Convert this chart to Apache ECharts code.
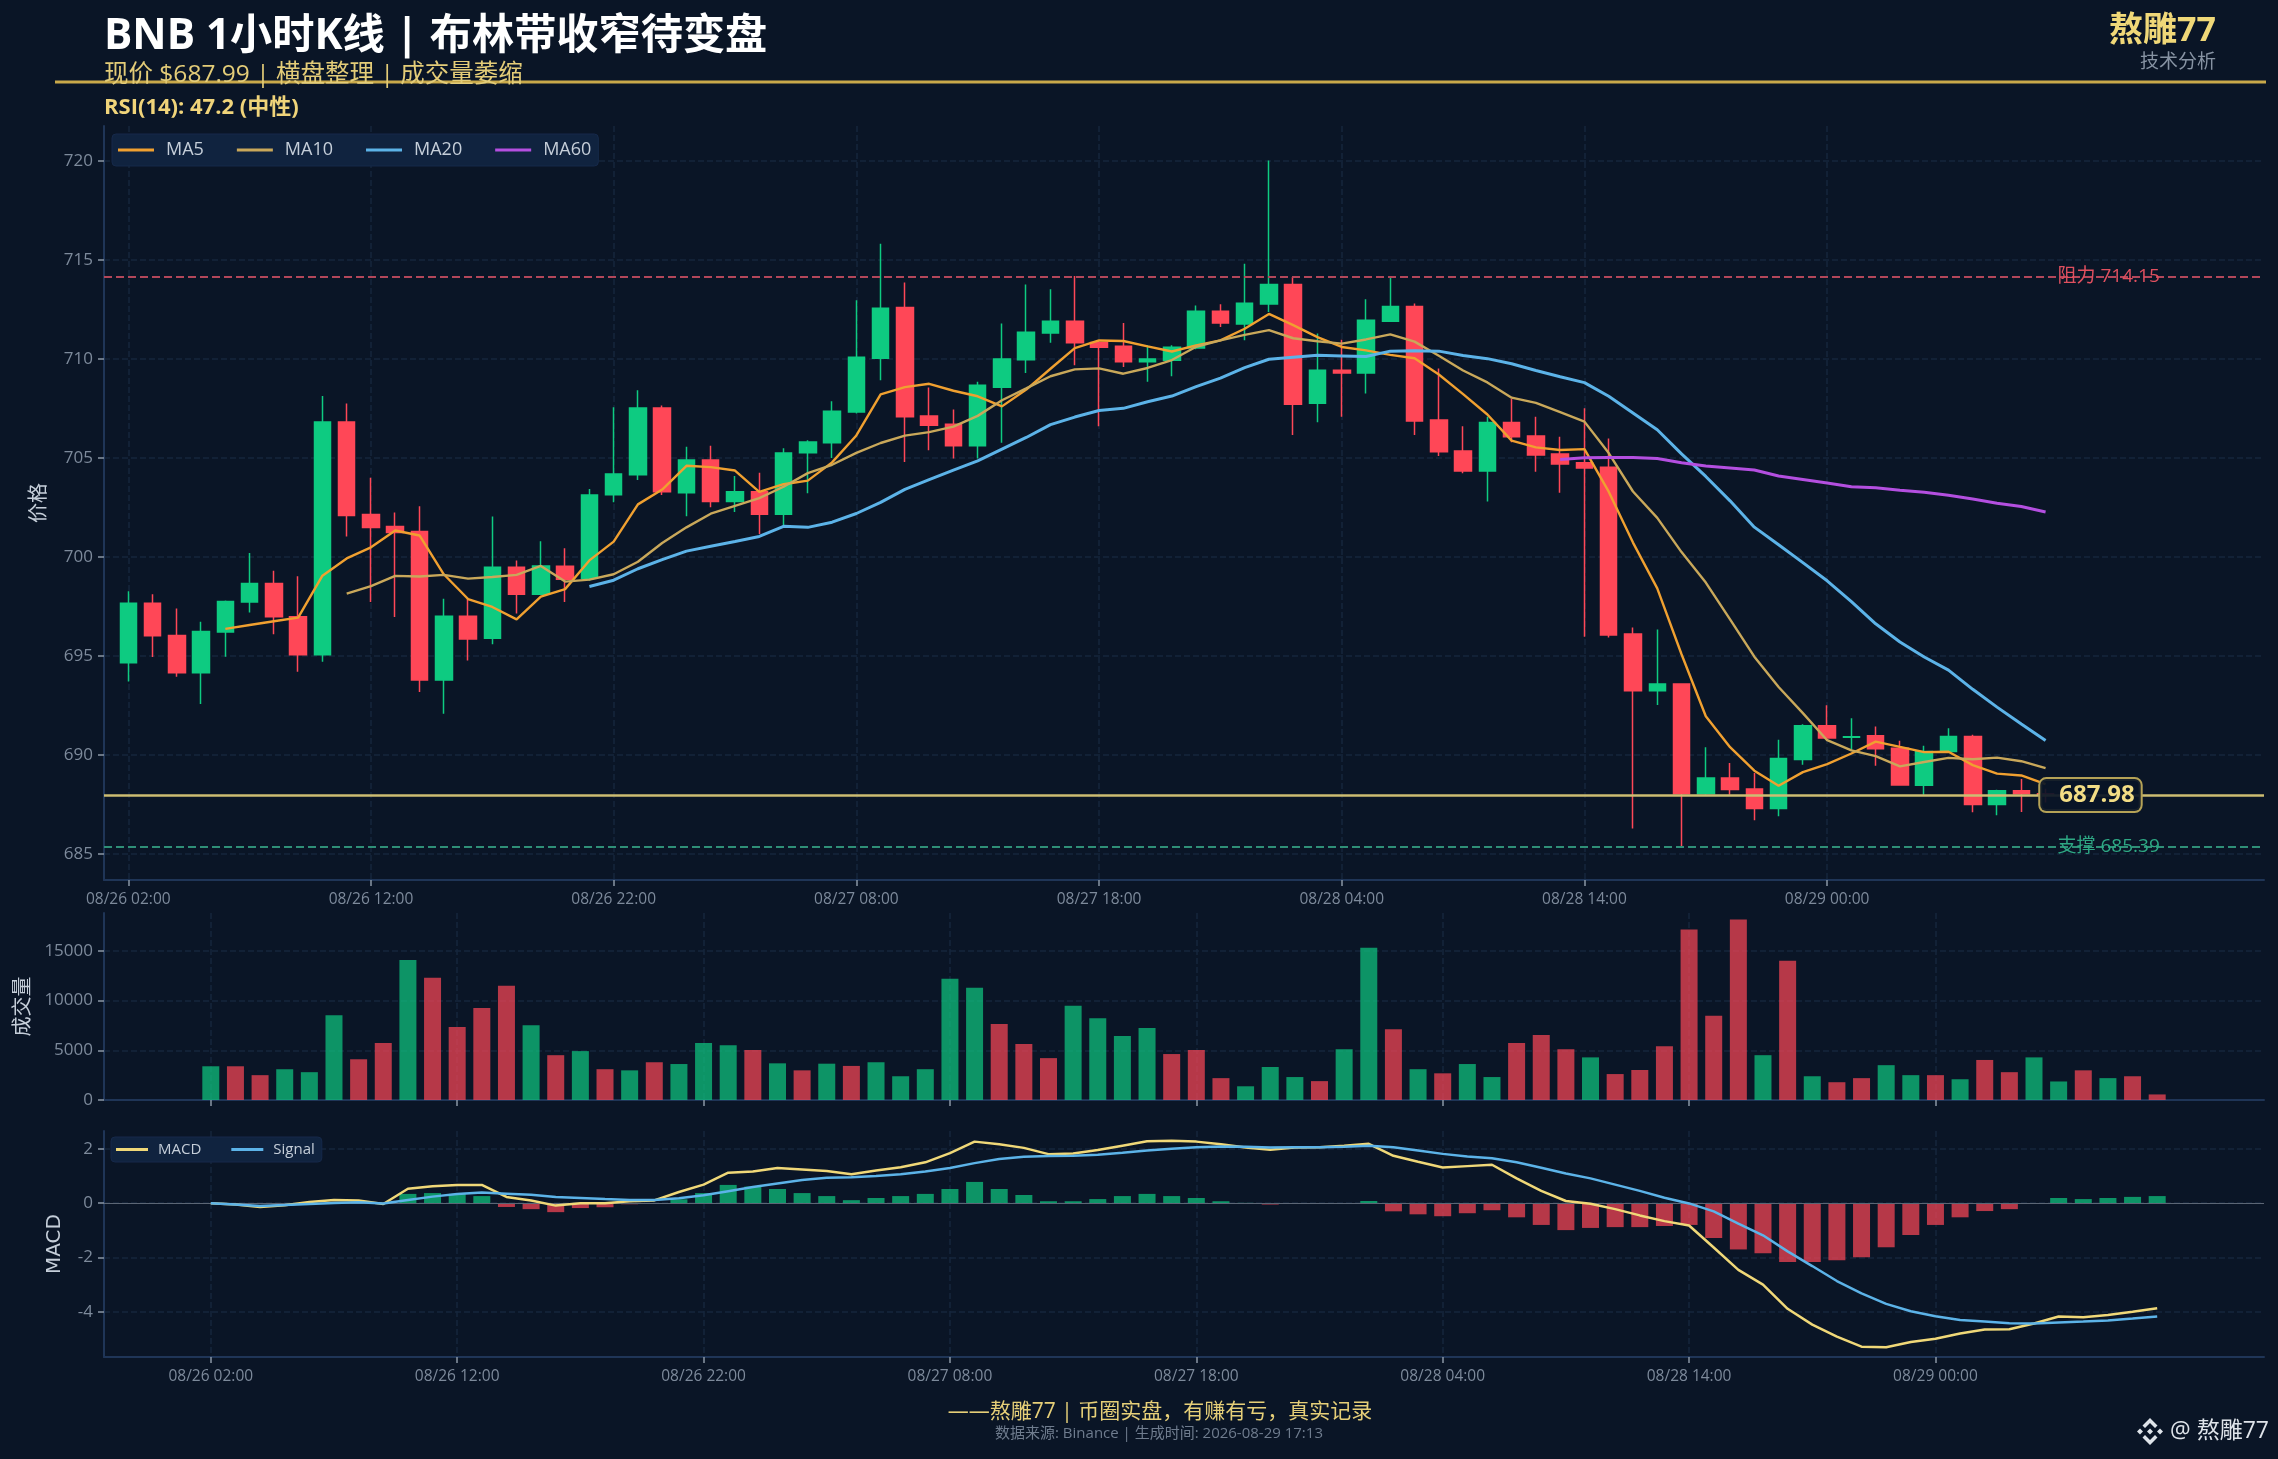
<!DOCTYPE html>
<html><head><meta charset="utf-8">
<style>html,body{margin:0;padding:0;background:#0a1526}#c{width:2278px;height:1459px}</style>
<script src="https://cdn.jsdelivr.net/npm/echarts@6/dist/echarts.min.js"></script>
</head><body><div id="c"></div>
<script>
const tickLabels=["08/26 02:00","08/26 12:00","08/26 22:00","08/27 08:00","08/27 18:00","08/28 04:00","08/28 14:00","08/29 00:00"];
const tickPositions=[0,10,20,30,40,50,60,70];
const priceTicks=[685,690,695,700,705,710,715,720];
const volumeTicks=[0,5000,10000,15000];
const macdTicks=[-4,-2,0,2];
const opens=[694.66,697.67,696.04,694.16,696.22,697.73,698.66,696.98,695.07,706.82,702.15,701.54,701.29,693.79,697.01,695.9,699.48,698.12,699.53,698.93,703.15,704.16,707.53,703.25,704.9,702.8,703.3,702.16,705.27,705.77,707.32,710.04,712.6,707.12,706.71,705.62,708.58,709.96,711.32,711.91,710.83,710.65,709.86,709.94,710.56,712.41,711.77,712.78,713.77,707.77,709.44,709.29,711.91,712.66,706.92,705.35,704.34,706.8,706.11,705.2,704.76,704.53,696.11,693.25,693.59,688.04,688.84,688.29,687.3,689.77,691.48,690.9,690.97,690.35,688.47,690.18,690.94,687.5,688.2,688.04];
const closes=[697.67,696.02,694.16,696.24,697.75,698.66,696.98,695.07,706.82,702.1,701.49,701.24,693.79,697.01,695.86,699.48,698.12,699.55,698.88,703.14,704.19,707.53,703.3,704.9,702.8,703.3,702.16,705.25,705.81,707.37,710.09,712.56,707.08,706.66,705.62,708.68,710,711.35,711.91,710.82,710.6,709.86,710,710.6,712.41,711.82,712.82,713.77,707.72,709.44,709.29,711.96,712.66,706.87,705.32,704.34,706.8,706.08,705.15,704.7,704.5,696.06,693.25,693.59,688.04,688.84,688.26,687.3,689.82,691.48,690.86,690.92,690.32,688.49,690.18,690.94,687.5,688.2,688.04,687.98];
const lows=[693.71,694.95,693.96,692.58,694.97,697.2,696.1,694.21,694.71,701.04,697.73,696.97,693.19,692.08,694.77,695.6,697.15,698.1,697.73,698.8,702.77,703.89,703.13,702.06,702.52,702.27,701.17,701.54,703.22,705,707.25,708.93,704.8,705.4,704.98,704.98,705.77,709.3,710.82,709.69,706.61,709.6,708.85,709.13,710.5,711.62,710.95,712.38,706.16,706.81,707.08,708.26,711.9,706.16,705.1,704.23,702.8,705.8,704.31,703.25,695.97,695.94,686.29,692.53,685.4,688,688,686.71,686.91,689.51,690.85,690.27,689.46,688.46,688,690.18,687.11,686.96,687.13,687.6];
const highs=[698.27,698.12,697.4,696.73,697.8,700.2,699.31,699.03,708.13,707.76,704,702.25,702.57,697.9,697.9,702.05,699.83,700.8,700.44,703.44,707.56,708.43,707.66,705.57,705.62,704.09,704.26,705.49,705.9,707.87,712.97,715.82,713.86,708.56,707.45,708.85,711.79,713.77,713.52,714.2,710.95,711.82,710.7,710.7,712.71,712.77,714.81,720.03,714.14,711.29,710.98,713.02,714.19,712.8,709.52,706.61,707.08,708,707.08,706.08,707.52,705.99,696.44,696.34,693.6,690.4,689.6,689.09,690.77,691.56,692.52,691.86,691.44,690.72,690.47,691.36,691.02,688.25,688.79,688.3];
const ma5=[null,null,null,null,696.37,696.57,696.76,696.94,699.06,699.93,700.49,701.34,701.09,699.13,697.88,697.48,696.85,698,698.38,699.83,700.78,702.66,703.41,704.61,704.54,704.37,703.29,703.68,703.86,704.78,706.14,708.22,708.58,708.75,708.4,708.12,707.61,708.46,709.51,710.55,710.94,710.91,710.64,710.38,710.69,710.94,711.53,712.28,711.71,711.11,710.61,710.44,710.21,710.04,709.22,708.23,707.2,705.88,705.54,705.41,705.45,703.3,700.73,698.42,695.09,691.96,690.4,689.21,688.45,689.14,689.54,690.08,690.68,690.41,690.15,690.17,689.49,689.06,688.97,688.53];
const ma10=[null,null,null,null,null,null,null,null,null,698.15,698.53,699.05,699.02,699.1,698.91,698.99,699.1,699.55,698.76,698.86,699.13,699.76,700.71,701.5,702.19,702.58,702.98,703.55,704.24,704.66,705.26,705.76,706.13,706.31,706.59,707.13,707.92,708.52,709.13,709.48,709.53,709.26,709.55,709.95,710.62,710.94,711.22,711.46,711.05,710.9,710.78,710.99,711.25,710.88,710.17,709.42,708.82,708.05,707.79,707.32,706.84,705.25,703.31,701.98,700.25,698.71,696.85,694.97,693.44,692.12,690.75,690.24,689.95,689.43,689.65,689.86,689.79,689.87,689.69,689.34];
const ma20=[null,null,null,null,null,null,null,null,null,null,null,null,null,null,null,null,null,null,null,698.51,698.83,699.41,699.87,700.3,700.55,700.79,701.04,701.55,701.5,701.76,702.2,702.76,703.42,703.91,704.39,704.86,705.45,706.04,706.69,707.07,707.4,707.51,707.84,708.13,708.61,709.04,709.57,709.99,710.09,710.19,710.16,710.13,710.4,710.42,710.4,710.18,710.02,709.76,709.42,709.11,708.81,708.12,707.28,706.43,705.21,704.07,702.84,701.51,700.62,699.72,698.8,697.75,696.63,695.71,694.95,694.29,693.32,692.42,691.57,690.73];
const ma60=[null,null,null,null,null,null,null,null,null,null,null,null,null,null,null,null,null,null,null,null,null,null,null,null,null,null,null,null,null,null,null,null,null,null,null,null,null,null,null,null,null,null,null,null,null,null,null,null,null,null,null,null,null,null,null,null,null,null,null,704.93,705.02,705.03,705.03,704.98,704.76,704.6,704.5,704.4,704.09,703.92,703.74,703.55,703.5,703.37,703.27,703.12,702.93,702.72,702.55,702.28];
const volumes=[3394,3394,2500,3096,2800,8540,4100,5745,14100,12310,7350,9250,11490,7535,4510,4920,3100,2984,3800,3620,5745,5520,5035,3690,2984,3655,3430,3800,2390,3100,12200,11300,7650,5630,4215,9475,8240,6450,7235,4625,5035,2200,1380,3320,2310,1900,5110,15330,7120,3100,2685,3620,2310,5745,6530,5110,4290,2610,3020,5410,17160,8470,18165,4510,14025,2390,1790,2200,3505,2500,2500,2090,4030,2800,4290,1865,2985,2200,2390,560];
const macd=[0,-0.05,-0.14,-0.08,0.04,0.12,0.1,-0.03,0.53,0.62,0.67,0.67,0.23,0.1,-0.09,0,0,0.07,0.1,0.41,0.68,1.12,1.16,1.29,1.24,1.18,1.06,1.2,1.32,1.5,1.84,2.26,2.16,2.03,1.8,1.82,1.95,2.11,2.27,2.29,2.26,2.16,2.04,1.96,2.04,2.05,2.11,2.18,1.74,1.52,1.31,1.36,1.41,0.91,0.45,0.08,-0.02,-0.22,-0.45,-0.66,-0.82,-1.63,-2.45,-2.99,-3.88,-4.46,-4.9,-5.27,-5.29,-5.1,-4.98,-4.79,-4.64,-4.63,-4.42,-4.16,-4.19,-4.11,-3.99,-3.86];
const signal=[0,-0.05,-0.1,-0.07,-0.03,0.01,0.03,-0.01,0.12,0.24,0.34,0.39,0.35,0.31,0.23,0.19,0.15,0.12,0.12,0.18,0.29,0.44,0.59,0.72,0.85,0.93,0.95,1,1.06,1.16,1.29,1.47,1.62,1.7,1.73,1.74,1.78,1.85,1.93,2,2.05,2.08,2.07,2.04,2.05,2.05,2.07,2.11,2.05,1.93,1.81,1.71,1.65,1.5,1.3,1.09,0.91,0.68,0.45,0.2,-0.01,-0.3,-0.75,-1.18,-1.77,-2.31,-2.86,-3.31,-3.7,-3.97,-4.15,-4.29,-4.35,-4.41,-4.42,-4.38,-4.35,-4.31,-4.24,-4.16];
const hist=[0,0,-0.02,-0.01,0.02,0.03,0.02,-0.01,0.34,0.37,0.34,0.26,-0.14,-0.22,-0.33,-0.18,-0.15,-0.04,-0.02,0.14,0.37,0.67,0.61,0.52,0.37,0.26,0.11,0.19,0.26,0.34,0.52,0.78,0.52,0.3,0.07,0.07,0.15,0.26,0.34,0.26,0.19,0.07,0.01,-0.05,0,-0.01,0,0.08,-0.3,-0.41,-0.48,-0.37,-0.26,-0.52,-0.8,-0.99,-0.91,-0.88,-0.88,-0.84,-0.8,-1.28,-1.7,-1.84,-2.16,-2.16,-2.1,-1.99,-1.62,-1.17,-0.8,-0.52,-0.29,-0.22,0,0.19,0.15,0.19,0.23,0.26];
const resistance=714.15, support=685.39, lastPrice=687.98;
const resistanceLabel="阻力 714.15", supportLabel="支撑 685.39", lastLabel="687.98";

const UP='#0ecb81',DOWN='#ff4757',BG='#0a1526';
const FONT='"Open Sans","Noto Sans CJK SC",sans-serif';
const idx=closes.map((_,i)=>i);
const pairs=a=>a.map((v,i)=>[i,v]);
const tickCol='#7d8a9b',axisCol='#1f3557',gridCol='#16263d',nameCol='#c5ced9';

function xAxis(gi,min,max,showLabel,mt){
  return {type:'value',gridIndex:gi,min,max,position:'bottom',
    axisLine:{show:true,onZero:false,lineStyle:{color:axisCol,width:2}},
    axisTick:{show:true,length:6,customValues:tickPositions,lineStyle:{color:'#8b96a5',width:1.5}},
    axisLabel:{show:showLabel,margin:mt,color:tickCol,fontSize:15.5,fontFamily:FONT,customValues:tickPositions,
      formatter:v=>tickLabels[tickPositions.indexOf(v)]||''},
    splitLine:{show:true,lineStyle:{color:gridCol,type:'dashed',width:1.5}}};
}
function yAxis(gi,min,max,ticks,name,gap,nameFont){
  return {type:'value',gridIndex:gi,min,max,position:'left',name,nameLocation:'middle',nameGap:gap,
    nameTextStyle:{color:nameCol,fontSize:20,fontFamily:nameFont||FONT},
    axisLine:{show:true,onZero:false,lineStyle:{color:axisCol,width:2}},
    axisTick:{show:true,length:6,customValues:ticks,lineStyle:{color:'#8b96a5',width:1.5}},
    axisLabel:{color:tickCol,fontSize:17,fontFamily:FONT,margin:11,customValues:ticks,formatter:v=>String(v)},
    splitLine:{show:true,lineStyle:{color:gridCol,type:'dashed',width:1.5}}};
}
function lineSeries(name,data,color,width,xi,yi,z){
  return {type:'line',name,data:pairs(data),xAxisIndex:xi,yAxisIndex:yi,symbol:'none',showSymbol:false,connectNulls:false,
    lineStyle:{color,width},itemStyle:{color},z:z||4,silent:true};
}
function txt(text,left,top,size,color,weight,align){
  return {text,left,top,padding:0,textAlign:align||'left',textStyle:{color,fontSize:size,fontWeight:weight||'normal',fontFamily:FONT,lineHeight:size*1.2}};
}
const option={
  backgroundColor:BG,animation:false,
  title:[
    txt("BNB 1小时K线 | 布林带收窄待变盘",104,12,42.2,'#ffffff','bold'),
    txt("现价 $687.99 | 横盘整理 | 成交量萎缩",104,60,24.5,'#e3cc78'),
    txt("RSI(14): 47.2 (中性)",104,95,22,'#f0d47a','bold'),
    txt("熬雕77",2216,11,34,'#f0d878','bold','right'),
    txt("技术分析",2216,51,19,'#8793a3','normal','right'),
    txt("——熬雕77 | 币圈实盘，有赚有亏，真实记录",1160,1399,21,'#e6cf78','normal','center'),
    txt("数据来源: Binance | 生成时间: 2026-08-29 17:13",1159,1425,15,'#6f7c8e','normal','center'),
    txt("@ 熬雕77",2269,1418,23,'#dfe4ea','normal','right')
  ],
  grid:[
    {left:104,top:126,width:2160,height:754},
    {left:104,top:913,width:2160,height:187},
    {left:104,top:1131,width:2160,height:226}
  ],
  xAxis:[xAxis(0,-1,88,true,12),xAxis(1,-4.335,83.335,false,8),xAxis(2,-4.335,83.335,true,12)],
  yAxis:[
    yAxis(0,683.69,721.77,priceTicks,'价格',55),
    yAxis(1,0,18820,volumeTicks,'成交量',60),
    yAxis(2,-5.65,2.65,macdTicks,'MACD',39,'"DejaVu Sans"')
  ],
  legend:[
    {left:112,top:134,padding:[7,7,7,6],itemGap:33,itemWidth:36,itemHeight:3,icon:'rect',data:['MA5','MA10','MA20','MA60'],
     backgroundColor:'#10233f',borderColor:'#16294a',borderWidth:1,borderRadius:4,
     textStyle:{color:'#c5ced9',fontSize:18,fontFamily:FONT,padding:[0,0,0,7]}},
    {left:111,top:1137,padding:[5,7,5,5],itemGap:30,itemWidth:32,itemHeight:3,icon:'rect',data:['MACD','Signal'],
     backgroundColor:'#10233f',borderColor:'#16294a',borderWidth:1,borderRadius:4,
     textStyle:{color:'#c5ced9',fontSize:15,fontFamily:FONT,padding:[0,0,0,5]}}
  ],
  series:[
    {type:'candlestick',name:'BNB',xAxisIndex:0,yAxisIndex:0,barWidth:17,
     data:idx.map(i=>[i,opens[i],closes[i],lows[i],highs[i]]),
     encode:{x:0,y:[1,2,3,4]},
     itemStyle:{color:UP,color0:DOWN,borderColor:UP,borderColor0:DOWN,borderWidth:1.5},
     silent:true,z:2,
     markLine:{silent:true,symbol:'none',z:5,label:{show:false},data:[
       {yAxis:resistance,lineStyle:{color:'#b3475a',type:'dashed',width:2}},
       {yAxis:support,lineStyle:{color:'#2f8f77',type:'dashed',width:2}},
       {yAxis:lastPrice,lineStyle:{color:'#cdbd72',type:'solid',width:2.5}}
     ]},
     markPoint:{silent:true,symbol:'circle',symbolSize:0,z:10,data:[
       {coord:[81.6,resistance],label:{show:true,position:'inside',formatter:resistanceLabel,color:'#e0505f',fontSize:19,fontFamily:FONT}},
       {coord:[81.6,support],label:{show:true,position:'inside',formatter:supportLabel,color:'#2ea884',fontSize:19,fontFamily:FONT}},
       {coord:[80.85,lastPrice],label:{show:true,position:'inside',formatter:lastLabel,color:'#f3dd85',fontSize:24,lineHeight:28,fontWeight:'bold',fontFamily:FONT,
         backgroundColor:'rgba(10,21,38,0.92)',borderColor:'#b5a256',borderWidth:2,borderRadius:6,padding:[2,6,2,19]}}
     ]}
    },
    lineSeries('MA5',ma5,'#f0a030',2.4,0,0),
    lineSeries('MA10',ma10,'#c9a85a',2.4,0,0),
    lineSeries('MA20',ma20,'#5cb3e8',3,0,0),
    lineSeries('MA60',ma60,'#b44fe0',3,0,0),
    {type:'bar',name:'Volume',xAxisIndex:1,yAxisIndex:1,barWidth:17,silent:true,
     data:idx.map(i=>({value:[i,volumes[i]],itemStyle:{color:closes[i]>=opens[i]?UP:DOWN,opacity:0.7}}))},
    {type:'bar',name:'Hist',xAxisIndex:2,yAxisIndex:2,barWidth:17,silent:true,
     data:idx.map(i=>({value:[i,hist[i]],itemStyle:{color:hist[i]>=0?UP:DOWN,opacity:0.7}})),
     markLine:{silent:true,symbol:'none',label:{show:false},z:3,data:[{yAxis:0,lineStyle:{color:'#5c6675',type:'solid',width:1.2}}]}},
    lineSeries('MACD',macd,'#f0d878',2.5,2,2,5),
    lineSeries('Signal',signal,'#5cb3e8',2.5,2,2,5)
  ],
  graphic:[
    {type:'rect',silent:true,z:1,shape:{x:55,y:80.5,width:2211,height:3},style:{fill:'#c9a94a'}},
    {type:'group',silent:true,z:20,left:2137,top:1418,children:[
      {type:'polygon',shape:{points:[[13.5,10.5],[16.5,13.5],[13.5,16.5],[10.5,13.5]]},style:{fill:'#dfe4ea'}},
      {type:'polygon',shape:{points:[[3.5,10.5],[6.5,13.5],[3.5,16.5],[0.5,13.5]]},style:{fill:'#dfe4ea'}},
      {type:'polygon',shape:{points:[[23.5,10.5],[26.5,13.5],[23.5,16.5],[20.5,13.5]]},style:{fill:'#dfe4ea'}},
      {type:'polygon',shape:{points:[[13.5,0],[21,7.5],[18.5,10],[13.5,5],[8.5,10],[6,7.5]]},style:{fill:'#dfe4ea'}},
      {type:'polygon',shape:{points:[[13.5,27],[21,19.5],[18.5,17],[13.5,22],[8.5,17],[6,19.5]]},style:{fill:'#dfe4ea'}}
    ]}
  ]
};
echarts.init(document.getElementById('c'),null,{width:2278,height:1459,renderer:'canvas'}).setOption(option);
</script></body></html>
